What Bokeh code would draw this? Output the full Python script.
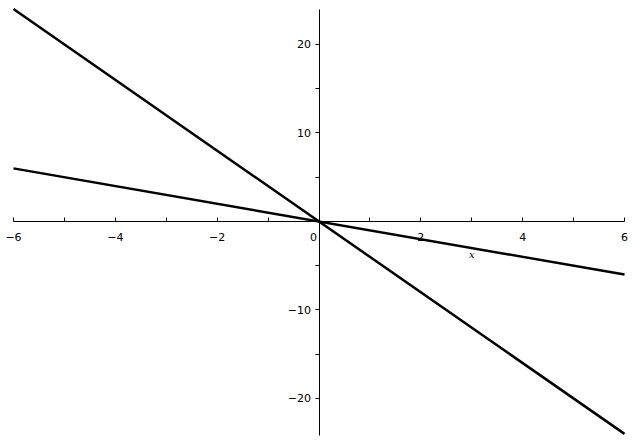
from bokeh.plotting import figure
from bokeh.models import LinearAxis, FixedTicker, Label
from bokeh.embed import file_html
from bokeh.resources import INLINE

# two straight lines through the origin
xs = [-6, 6]
steep = [24, -24]     # y = -4x
shallow = [6, -6]     # y = -x

x_major = [-6, -4, -2, 0, 2, 4, 6]
x_minor = [-5, -3, -1, 1, 3, 5]
y_major = [-20, -10, 10, 20]
y_minor = [-15, -5, 5, 15]

p = figure(width=634, height=444, x_range=(-6.255, 6.196), y_range=(-25.2, 24.97),
           x_axis_location=None, y_axis_location=None, toolbar_location=None,
           output_backend="svg", min_border=0, outline_line_color=None)
p.grid.visible = False

p.line(xs, steep, line_color="black", line_width=2.5)
p.line(xs, shallow, line_color="black", line_width=2.5)

minus = lambda v: str(v).replace("-", "\u2212")

xaxis = LinearAxis(fixed_location=0, bounds=(-6, 6),
                   ticker=FixedTicker(ticks=x_major, minor_ticks=x_minor))
xaxis.major_label_overrides = {v: (minus(v) if v != 0 else "0\u2003") for v in x_major}
xaxis.major_tick_in = 4
xaxis.major_tick_out = 0
xaxis.minor_tick_in = 4
xaxis.minor_tick_out = 0
xaxis.major_label_standoff = 10
p.add_layout(xaxis, "below")

yaxis = LinearAxis(fixed_location=0, bounds=(-24.2, 24),
                   ticker=FixedTicker(ticks=y_major, minor_ticks=y_minor))
yaxis.major_label_overrides = {v: minus(v) for v in y_major}
yaxis.major_tick_in = 0
yaxis.major_tick_out = 4
yaxis.minor_tick_in = 0
yaxis.minor_tick_out = 4
yaxis.major_label_standoff = 4
p.add_layout(yaxis, "left")

for ax in (xaxis, yaxis):
    ax.axis_line_color = "black"
    ax.major_tick_line_color = "black"
    ax.minor_tick_line_color = "black"
    ax.major_label_text_font = "DejaVu Sans"
    ax.major_label_text_font_size = "11px"
    ax.major_label_text_color = "black"

p.add_layout(Label(x=3, y=-4.4, text="x", text_font="DejaVu Serif", text_font_style="italic",
                   text_font_size="10px", text_align="center", text_color="black"))

open("out.html", "w").write(file_html(p, INLINE))
